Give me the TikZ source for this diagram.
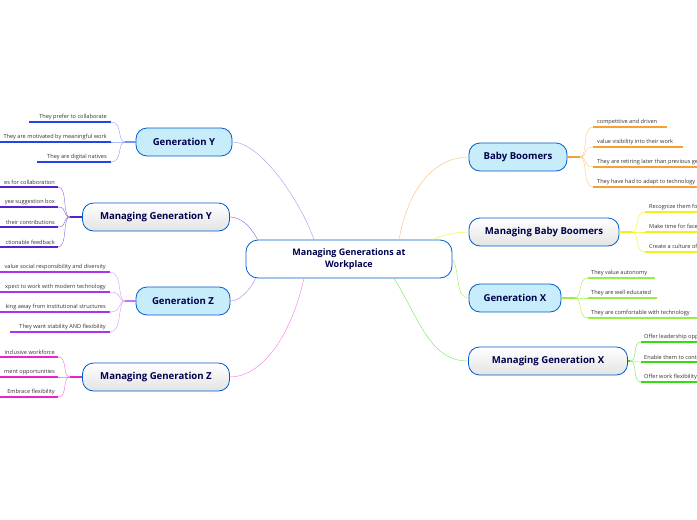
\documentclass[tikz,border=0pt]{standalone}
\usepackage{fontspec}
\setmainfont{Open Sans}
\begin{document}
\begin{tikzpicture}[x=1pt,y=-1pt,
 main/.style={draw=blue!55!cyan!80!black,line width=0.8pt,rounded corners=11pt,minimum height=28pt,font=\fontsize{9.6}{10}\selectfont\bfseries,text=blue!30!black},
 gen/.style={main,fill=cyan!22},
 mgr/.style={main,top color=white,bottom color=gray!22},
 leaf/.style={inner sep=1pt,font=\fontsize{5.6}{6}\selectfont,text=black!80},
 ul/.style={line width=1.3pt}]
\useasboundingbox (0,0) rectangle (697,520);
\definecolor{cOr}{HTML}{F7A130}\definecolor{cYe}{HTML}{F2F21A}\definecolor{cLg}{HTML}{99EE44}
\definecolor{cGr}{HTML}{33DD11}\definecolor{cBl}{HTML}{2244EE}\definecolor{cPb}{HTML}{5522CC}
\definecolor{cPu}{HTML}{AA33EE}\definecolor{cMg}{HTML}{EE22CC}
\node[draw=blue!55!cyan!80!black,line width=0.8pt,rounded corners=12pt,fill=white,minimum width=206pt,minimum height=38pt,align=center,font=\fontsize{9}{12}\selectfont\bfseries,text=blue!30!black] (c) at (349,259) {Managing Generations at\\Workplace};
\node[gen,minimum width=98pt] (bb) at (518,157) {Baby Boomers};
\node[mgr,minimum width=150pt] (mbb) at (544,232) {Managing Baby Boomers};
\node[gen,minimum width=92pt] (gx) at (515,298) {Generation X};
\node[mgr,minimum width=159pt] (mgx) at (548,361) {Managing Generation X};
\node[gen,minimum width=96pt] (gy) at (184,142) {Generation Y};
\node[mgr,minimum width=147pt] (mgy) at (156,217) {Managing Generation Y};
\node[gen,minimum width=94pt] (gz) at (183,301) {Generation Z};
\node[mgr,minimum width=147pt] (mgz) at (156,377) {Managing Generation Z};
% central connectors
\draw[cOr!70] (c.north)++(50,0) coordinate (o1); \draw[cOr!70] (o1) .. controls (410,180) and (440,157) .. (bb.west);
\draw[cYe] (c.north east)++(-20,0) coordinate (o2); \draw[cYe] (o2) .. controls (440,236) and (455,232) .. (mbb.west);
\draw[cLg] (c.east) .. controls (460,270) and (455,298) .. (gx.west);
\draw[cGr!70] (c.south)++(45,0) coordinate (o4); \draw[cGr!70] (o4) .. controls (420,320) and (430,361) .. (mgx.west);
\draw[cBl!50] (c.north)++(-35,0) coordinate (o5); \draw[cBl!50] (o5) .. controls (300,200) and (260,142) .. (gy.east);
\draw[cPb!70] (c.north west)++(12,0) coordinate (o6); \draw[cPb!70] (o6) .. controls (250,225) and (240,217) .. (mgy.east);
\draw[cPu!70] (c.south west)++(10,0) coordinate (o7); \draw[cPu!70] (o7) .. controls (250,290) and (240,301) .. (gz.east);
\draw[cMg!60] (c.south)++(-45,0) coordinate (o8); \draw[cMg!60] (o8) .. controls (290,340) and (260,377) .. (mgz.east);
% right leaves
\coordinate (bbp) at (580,157);
\draw[cOr,line width=1.2pt] (bb.east) -- (bbp);
\foreach \y/\e/\t [count=\i] in {127/667/competitive and driven,147/683/value visibility into their work,167/710/They are retiring later than previous generations,187/710/They have had to adapt to technology} {
 \node[leaf,anchor=south west] (bbl\i) at (596,\y-1) {\t};
 \draw[cOr!60] (bbp) .. controls (588,157) and (582,\y) .. (593,\y);
 \draw[cOr,ul] (593,\y) -- (\e,\y);}
\coordinate (mbbp) at (632,232);
\draw[cYe,line width=1.2pt] (mbb.east) -- (mbbp);
\foreach \y/\t [count=\i] in {212/Recognize them for their experience,232/Make time for face-to-face meetings,252/Create a culture of respect} {
 \node[leaf,anchor=south west] (mbbl\i) at (648,\y-1) {\t};
 \draw[cYe] (mbbp) .. controls (640,232) and (634,\y) .. (645,\y);
 \draw[cYe,ul] (645,\y) -- (710,\y);}
\coordinate (gxp) at (575,298);
\draw[cLg,line width=1.2pt] (gx.east) -- (gxp);
\foreach \y/\e/\t [count=\i] in {278/655/They value autonomy,298/657/They are well educated,318/710/They are comfortable with technology} {
 \node[leaf,anchor=south west] (gxl\i) at (590,\y-1) {\t};
 \draw[cLg] (gxp) .. controls (583,298) and (577,\y) .. (588,\y);
 \draw[cLg,ul] (588,\y) -- (\e,\y);}
\coordinate (mgxp) at (630,361);
\draw[cGr,line width=1.2pt] (mgx.east) -- (mgxp);
\foreach \y/\t [count=\i] in {342/Offer leadership opportunities,362/Enable them to contribute,382/Offer work flexibility} {
 \node[leaf,anchor=south west] (mgxl\i) at (643,\y-1) {\t};
 \draw[cGr!70] (mgxp) .. controls (638,361) and (632,\y) .. (641,\y);
 \draw[cGr,ul] (641,\y) -- (710,\y);}
% left leaves
\coordinate (gyp) at (125,142);
\draw[cBl!60,line width=1.2pt] (gy.west) -- (gyp);
\foreach \y/\s/\t [count=\i] in {122/29/They prefer to collaborate,142/-5/They are motivated by meaningful work,162/37/They are digital natives} {
 \node[leaf,anchor=south east] (gyl\i) at (108,\y-1) {\t};
 \draw[cBl!50] (gyp) .. controls (117,142) and (123,\y) .. (111,\y);
 \draw[cBl,ul] (111,\y) -- (\s,\y);}
\coordinate (mgyp) at (70,217);
\draw[cPb,line width=1.2pt] (mgy.west) -- (mgyp);
\foreach \y/\t [count=\i] in {187/es for collaboration,207/yee suggestion box,227/ their contributions,247/ctionable feedback} {
 \node[leaf,anchor=south east] (mgyl\i) at (56,\y-1) {\t};
 \draw[cPb!70] (mgyp) .. controls (62,217) and (68,\y) .. (58,\y);
 \draw[cPb,ul] (58,\y) -- (-5,\y);}
\coordinate (gzp) at (125,301);
\draw[cPu!70,line width=1.2pt] (gz.west) -- (gzp);
\foreach \y/\s/\t [count=\i] in {272/-5/value social responsibility and diversity,292/-5/xpect to work with modern technology,312/-5/king away from institutional structures,332/10/They want stability AND flexibility} {
 \node[leaf,anchor=south east] (gzl\i) at (107,\y-1) {\t};
 \draw[cPu!50] (gzp) .. controls (117,301) and (123,\y) .. (110,\y);
 \draw[cPu,ul] (110,\y) -- (\s,\y);}
\coordinate (mgzp) at (70,377);
\draw[cMg,line width=1.2pt] (mgz.west) -- (mgzp);
\foreach \y/\t [count=\i] in {357/inclusive workforce,377/ment opportunities,397/Embrace flexibility} {
 \node[leaf,anchor=south east] (mgzl\i) at (56,\y-1) {\t};
 \draw[cMg!70] (mgzp) .. controls (62,377) and (68,\y) .. (58,\y);
 \draw[cMg,ul] (58,\y) -- (-5,\y);}
\end{tikzpicture}
\end{document}
